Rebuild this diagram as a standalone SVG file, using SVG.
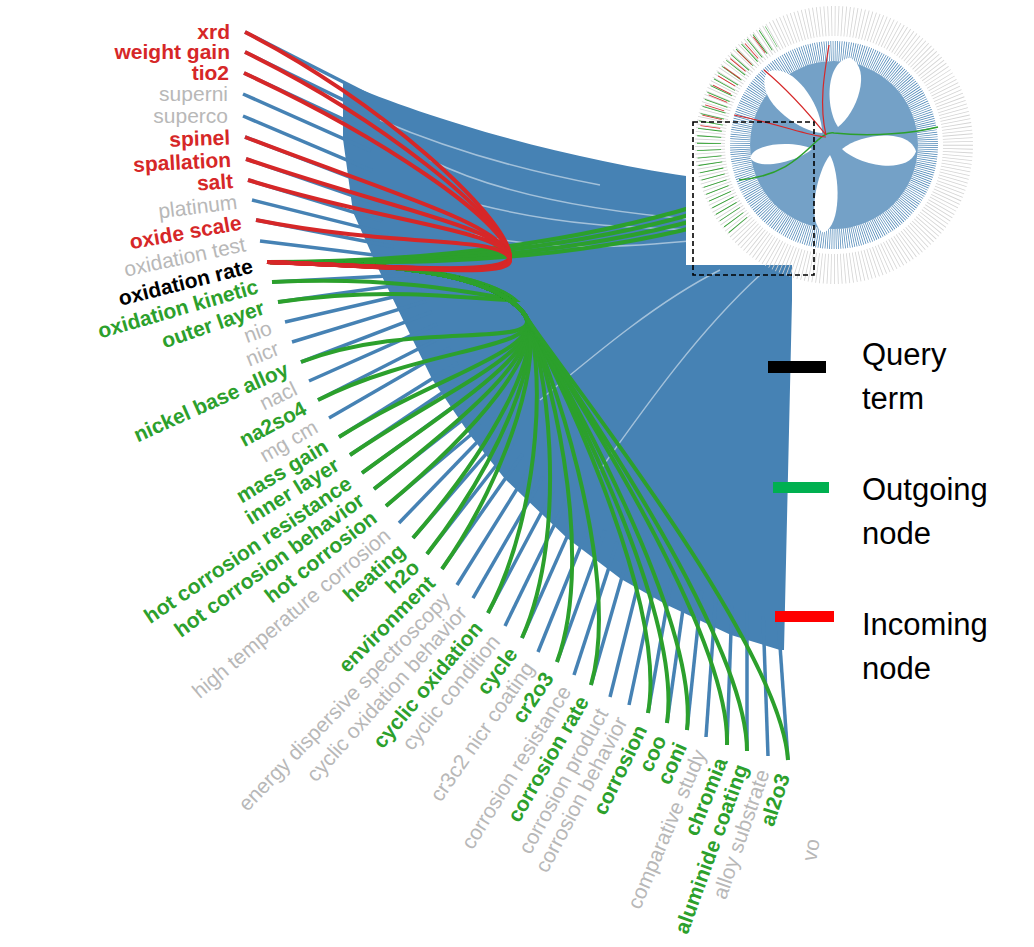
<svg xmlns="http://www.w3.org/2000/svg" xmlns:xlink="http://www.w3.org/1999/xlink" width="1034" height="947" viewBox="0 0 1034 947">
<style>
text{font-family:"Liberation Sans",Arial,sans-serif;font-size:21px;text-anchor:end}
.r{fill:#d62728;font-weight:bold}.g{fill:#2ca02c;font-weight:bold}.k{fill:#000;font-weight:bold}.y{fill:#b8b8b8}
.gl{fill:none;stroke:#2ca02c;stroke-width:4}.rl{fill:none;stroke:#d62728;stroke-width:4}
.lg{font-family:"Liberation Sans",Arial,sans-serif;font-size:31px;text-anchor:start;fill:#000}
</style>
<defs>
<path id="tb" d="M0,0 L140,0" stroke="#4682b4" stroke-width="3.5" fill="none"/>
<path id="hole" d="M0,0 C18,-20 70,-30 78,0 C70,30 18,20 0,0Z" fill="#fff"/>
</defs>
<rect width="1034" height="947" fill="#fff"/>
<g id="connectors">
<path d="M343,82 C430,120 570,160 700,178 L792,180 L792,300 L784,650 L780,650 L731,635 L667,605 L621,579 L567,538 L505,479 L470,435 L432,379 L404,322 L377,266 L353,212 L343,139 Z" fill="#4682b4"/>
<g fill="none" stroke="#fff" stroke-opacity="0.5" stroke-width="1.5">
<path d="M430,160 C500,195 600,212 700,220"/><path d="M460,232 C550,252 620,248 700,240"/><path d="M480,205 C560,225 630,228 700,230"/><path d="M600,470 C650,400 700,330 760,275"/><path d="M540,400 C600,350 660,300 720,270"/><path d="M380,120 C450,150 520,170 600,185"/>
</g>
<use href="#tb" transform="translate(245,32) rotate(27)"/><use href="#tb" transform="translate(245,52) rotate(26)"/><use href="#tb" transform="translate(244,73) rotate(25)"/><use href="#tb" transform="translate(243,94) rotate(24)"/><use href="#tb" transform="translate(243,116) rotate(23)"/><use href="#tb" transform="translate(245,137) rotate(21)"/><use href="#tb" transform="translate(246,159) rotate(19)"/><use href="#tb" transform="translate(248,180) rotate(17)"/><use href="#tb" transform="translate(252,200) rotate(14)"/><use href="#tb" transform="translate(256,220) rotate(11)"/><use href="#tb" transform="translate(260,241) rotate(7)"/><use href="#tb" transform="translate(267,262) rotate(2)"/><use href="#tb" transform="translate(272,282) rotate(-3)"/><use href="#tb" transform="translate(278,302) rotate(-8)"/><use href="#tb" transform="translate(285,322) rotate(-13)"/><use href="#tb" transform="translate(292,342) rotate(-17)"/><use href="#tb" transform="translate(301,362) rotate(-21)"/><use href="#tb" transform="translate(309,381) rotate(-24)"/><use href="#tb" transform="translate(318,400) rotate(-27)"/><use href="#tb" transform="translate(329,418) rotate(-30)"/><use href="#tb" transform="translate(339,437) rotate(-32)"/><use href="#tb" transform="translate(350,455) rotate(-34)"/><use href="#tb" transform="translate(362,473) rotate(-36)"/><use href="#tb" transform="translate(374,489) rotate(-38)"/><use href="#tb" transform="translate(386,506) rotate(-40)"/><use href="#tb" transform="translate(399,523) rotate(-46)"/><use href="#tb" transform="translate(413,538) rotate(-49)"/><use href="#tb" transform="translate(427,554) rotate(-52)"/><use href="#tb" transform="translate(442,569) rotate(-55)"/><use href="#tb" transform="translate(457,585) rotate(-58)"/><use href="#tb" transform="translate(473,598) rotate(-60)"/><use href="#tb" transform="translate(488,613) rotate(-62)"/><use href="#tb" transform="translate(505,626) rotate(-64)"/><use href="#tb" transform="translate(522,638) rotate(-66)"/><use href="#tb" transform="translate(538,652) rotate(-68)"/><use href="#tb" transform="translate(557,662) rotate(-70)"/><use href="#tb" transform="translate(574,675) rotate(-72)"/><use href="#tb" transform="translate(591,685) rotate(-74)"/><use href="#tb" transform="translate(610,697) rotate(-76)"/><use href="#tb" transform="translate(629,705) rotate(-78)"/><use href="#tb" transform="translate(648,713) rotate(-80)"/><use href="#tb" transform="translate(667,723) rotate(-82)"/><use href="#tb" transform="translate(687,730) rotate(-84)"/><use href="#tb" transform="translate(706,737) rotate(-86)"/><use href="#tb" transform="translate(727,745) rotate(-88)"/><use href="#tb" transform="translate(747,751) rotate(-90)"/><use href="#tb" transform="translate(768,756) rotate(-92)"/><use href="#tb" transform="translate(788,760) rotate(-94)"/>
<g class="gl">
<path d="M267,262 C400,262 550,250 700,205"/><path d="M267,262 C400,262 550,255 700,212"/><path d="M267,262 C400,263 550,260 700,219"/><path d="M267,262 C400,264 550,264 700,226"/>
<path d="M267,262 C420,262 490,280 515,300 C470,292 392,276 272,282"/>
<path d="M267,262 C420,262 490,280 515,300 C470,300 397,285 278,302"/>
<path d="M267,262 C420,262 500,280 525,315 C545,350 413,319 301,362"/>
<path d="M267,262 C420,262 500,280 525,315 C545,350 425,346 318,400"/>
<path d="M267,262 C420,262 500,280 525,315 C545,350 441,373 339,437"/>
<path d="M267,262 C420,262 500,280 525,315 C545,350 449,388 350,455"/>
<path d="M267,262 C420,262 500,280 525,315 C545,350 459,402 362,473"/>
<path d="M267,262 C420,262 500,280 525,315 C545,350 469,415 374,489"/>
<path d="M267,262 C420,262 500,280 525,315 C545,350 478,429 386,506"/>
<path d="M267,262 C420,262 500,280 525,315 C545,350 492,447 413,538"/>
<path d="M267,262 C420,262 500,280 525,315 C545,350 501,459 427,554"/>
<path d="M267,262 C420,262 500,280 525,315 C545,350 511,471 442,569"/>
<path d="M267,262 C420,262 500,280 525,315 C545,350 544,507 488,613"/>
<path d="M267,262 C420,262 500,280 525,315 C545,350 571,528 522,638"/>
<path d="M267,262 C420,262 500,280 525,315 C545,350 598,549 557,662"/>
<path d="M267,262 C420,262 500,280 525,315 C545,350 624,570 591,685"/>
<path d="M267,262 C420,262 500,280 525,315 C545,350 669,595 648,713"/>
<path d="M267,262 C420,262 500,280 525,315 C545,350 684,604 667,723"/>
<path d="M267,262 C420,262 500,280 525,315 C545,350 700,611 687,730"/>
<path d="M267,262 C420,262 500,280 525,315 C545,350 731,625 727,745"/>
<path d="M267,262 C420,262 500,280 525,315 C545,350 747,631 747,751"/>
<path d="M267,262 C420,262 500,280 525,315 C545,350 780,640 788,760"/>
</g>
<g class="rl">
<path d="M245,32 C379,100 505,215 510,255 C512,275 420,268 267,262"/>
<path d="M245,52 C380,118 505,218 510,256 C512,276 420,268 267,262"/>
<path d="M244,73 C380,136 505,220 510,257 C512,276 420,268 267,262"/>
<path d="M245,137 C385,191 505,225 510,258 C512,277 420,268 267,262"/>
<path d="M246,159 C388,208 505,228 510,258 C512,277 420,268 267,262"/>
<path d="M248,180 C391,224 505,230 510,259 C512,277 420,268 267,262"/>
<path d="M256,220 C403,249 505,235 510,260 C512,278 420,268 267,262"/>
</g>
</g>
<g id="nodes">
<g id="n1" transform="translate(245,32)"><text class="r" x="-15" y="7">xrd</text></g>
<g id="n2" transform="translate(245,52)"><text class="r" x="-15" y="7">weight gain</text></g>
<g id="n3" transform="translate(244,73)"><text class="r" x="-15" y="7">tio2</text></g>
<g id="n4" transform="translate(243,94)"><text class="y" x="-15" y="7">superni</text></g>
<g id="n5" transform="translate(243,116)"><text class="y" x="-15" y="7">superco</text></g>
<g id="n6" transform="translate(245,137) rotate(-2)"><text class="r" x="-15" y="7">spinel</text></g>
<g id="n7" transform="translate(246,159) rotate(-3)"><text class="r" x="-15" y="7">spallation</text></g>
<g id="n8" transform="translate(248,180) rotate(-4)"><text class="r" x="-15" y="7">salt</text></g>
<g id="n9" transform="translate(252,200) rotate(-7)"><text class="y" x="-15" y="7">platinum</text></g>
<g id="n10" transform="translate(256,220) rotate(-10)"><text class="r" x="-15" y="7">oxide scale</text></g>
<g id="n11" transform="translate(260,241) rotate(-12)"><text class="y" x="-15" y="7">oxidation test</text></g>
<g id="n12" transform="translate(267,262) rotate(-14)"><text class="k" x="-15" y="7">oxidation rate</text></g>
<g id="n13" transform="translate(272,282) rotate(-16)"><text class="g" x="-15" y="7">oxidation kinetic</text></g>
<g id="n14" transform="translate(278,302) rotate(-19)"><text class="g" x="-15" y="7">outer layer</text></g>
<g id="n15" transform="translate(285,322) rotate(-20)"><text class="y" x="-15" y="7">nio</text></g>
<g id="n16" transform="translate(292,342) rotate(-22)"><text class="y" x="-15" y="7">nicr</text></g>
<g id="n17" transform="translate(301,362) rotate(-24)"><text class="g" x="-15" y="7">nickel base alloy</text></g>
<g id="n18" transform="translate(309,381) rotate(-26)"><text class="y" x="-15" y="7">nacl</text></g>
<g id="n19" transform="translate(318,400) rotate(-28)"><text class="g" x="-15" y="7">na2so4</text></g>
<g id="n20" transform="translate(329,418) rotate(-30)"><text class="y" x="-15" y="7">mg cm</text></g>
<g id="n21" transform="translate(339,437) rotate(-31)"><text class="g" x="-15" y="7">mass gain</text></g>
<g id="n22" transform="translate(350,455) rotate(-32)"><text class="g" x="-15" y="7">inner layer</text></g>
<g id="n23" transform="translate(362,473) rotate(-34)"><text class="g" x="-15" y="7">hot corrosion resistance</text></g>
<g id="n24" transform="translate(374,489) rotate(-36)"><text class="g" x="-15" y="7">hot corrosion behavior</text></g>
<g id="n25" transform="translate(386,506) rotate(-38)"><text class="g" x="-15" y="7">hot corrosion</text></g>
<g id="n26" transform="translate(399,523) rotate(-40)"><text class="y" x="-15" y="7">high temperature corrosion</text></g>
<g id="n27" transform="translate(413,538) rotate(-42)"><text class="g" x="-15" y="7">heating</text></g>
<g id="n28" transform="translate(427,554) rotate(-43)"><text class="g" x="-15" y="7">h2o</text></g>
<g id="n29" transform="translate(442,569) rotate(-45)"><text class="g" x="-15" y="7">environment</text></g>
<g id="n30" transform="translate(457,585) rotate(-46)"><text class="y" x="-15" y="7">energy dispersive spectroscopy</text></g>
<g id="n31" transform="translate(473,598) rotate(-48)"><text class="y" x="-15" y="7">cyclic oxidation behavior</text></g>
<g id="n32" transform="translate(488,613) rotate(-50)"><text class="g" x="-15" y="7">cyclic oxidation</text></g>
<g id="n33" transform="translate(505,626) rotate(-51)"><text class="y" x="-15" y="7">cyclic condition</text></g>
<g id="n34" transform="translate(522,638) rotate(-53)"><text class="g" x="-15" y="7">cycle</text></g>
<g id="n35" transform="translate(538,652) rotate(-55)"><text class="y" x="-15" y="7">cr3c2 nicr coating</text></g>
<g id="n36" transform="translate(557,662) rotate(-56)"><text class="g" x="-15" y="7">cr2o3</text></g>
<g id="n37" transform="translate(574,675) rotate(-58)"><text class="y" x="-15" y="7">corrosion resistance</text></g>
<g id="n38" transform="translate(591,685) rotate(-60)"><text class="g" x="-15" y="7">corrosion rate</text></g>
<g id="n39" transform="translate(610,697) rotate(-61)"><text class="y" x="-15" y="7">corrosion product</text></g>
<g id="n40" transform="translate(629,705) rotate(-62)"><text class="y" x="-15" y="7">corrosion behavior</text></g>
<g id="n41" transform="translate(648,713) rotate(-64)"><text class="g" x="-15" y="7">corrosion</text></g>
<g id="n42" transform="translate(667,723) rotate(-65)"><text class="g" x="-15" y="7">coo</text></g>
<g id="n43" transform="translate(687,730) rotate(-66)"><text class="g" x="-15" y="7">coni</text></g>
<g id="n44" transform="translate(706,737) rotate(-67)"><text class="y" x="-15" y="7">comparative study</text></g>
<g id="n45" transform="translate(727,745) rotate(-68)"><text class="g" x="-15" y="7">chromia</text></g>
<g id="n46" transform="translate(747,751) rotate(-70)"><text class="g" x="-15" y="7">aluminide coating</text></g>
<g id="n47" transform="translate(768,756) rotate(-71)"><text class="y" x="-15" y="7">alloy substrate</text></g>
<g id="n48" transform="translate(788,760) rotate(-72)"><text class="g" x="-15" y="7">al2o3</text></g>
<g id="n49" transform="translate(816,862) rotate(-80)"><text class="y" x="0" y="0" style="text-anchor:start">vo</text></g>
</g>
<g id="inset">
<rect x="686" y="0" width="348" height="265" fill="#fff"/>
<g transform="translate(834,145)">
<circle r="124" fill="none" stroke="#d4d4d4" stroke-width="30" stroke-dasharray="0.8 2.6"/>
<path d="M-95.8,80.3 A125,125 0 0 1 -62.5,-108.3" fill="none" stroke="#2ca02c" stroke-width="24" stroke-dasharray="0.8 6"/>
<path d="M-124.5,-10.9 A125,125 0 0 1 -71.7,-102.4" fill="none" stroke="#d62728" stroke-width="20" stroke-dasharray="0.8 9" stroke-dashoffset="3"/>
<circle r="94" fill="none" stroke="#4682b4" stroke-width="20" stroke-dasharray="0.7 1.4"/>
<circle r="84" fill="#4682b4" fill-opacity="0.75"/>
<use href="#hole" transform="translate(-12,-12) rotate(-132) scale(1.05,0.9)"/>
<use href="#hole" transform="translate(4,-18) rotate(-80) scale(0.9,0.8)"/>
<use href="#hole" transform="translate(8,4) rotate(2) scale(0.95,0.8)"/>
<use href="#hole" transform="translate(-4,10) rotate(95) scale(1,0.6)"/>
<use href="#hole" transform="translate(-22,4) rotate(172) scale(0.8,0.5)"/>
<path d="M-95,35 C-30,30 -20,-15 0,-12 C40,-8 80,-12 104,-18" fill="none" stroke="#2ca02c" stroke-width="1.5"/>
<path d="M-70,-75 C-40,-50 -20,-25 -8,-10 C-15,-40 -10,-70 -5,-100" fill="none" stroke="#d62728" stroke-width="1.2"/>
<path d="M-100,-30 C-50,-20 -30,-10 -8,-8" fill="none" stroke="#d62728" stroke-width="1.2"/>
</g>
<rect x="693" y="122" width="121" height="153" fill="none" stroke="#000" stroke-width="1.6" stroke-dasharray="5 3"/>
</g>
<g id="legend">
<rect x="768" y="361" width="58" height="12" fill="#000"/>
<text class="lg" x="862" y="365">Query</text><text class="lg" x="862" y="409">term</text>
<rect x="773" y="482" width="56" height="11" fill="#00b050"/>
<text class="lg" x="862" y="500">Outgoing</text><text class="lg" x="862" y="544">node</text>
<rect x="775" y="611" width="59" height="11" fill="#ff0000"/>
<text class="lg" x="862" y="635">Incoming</text><text class="lg" x="862" y="679">node</text>
</g>
</svg>
